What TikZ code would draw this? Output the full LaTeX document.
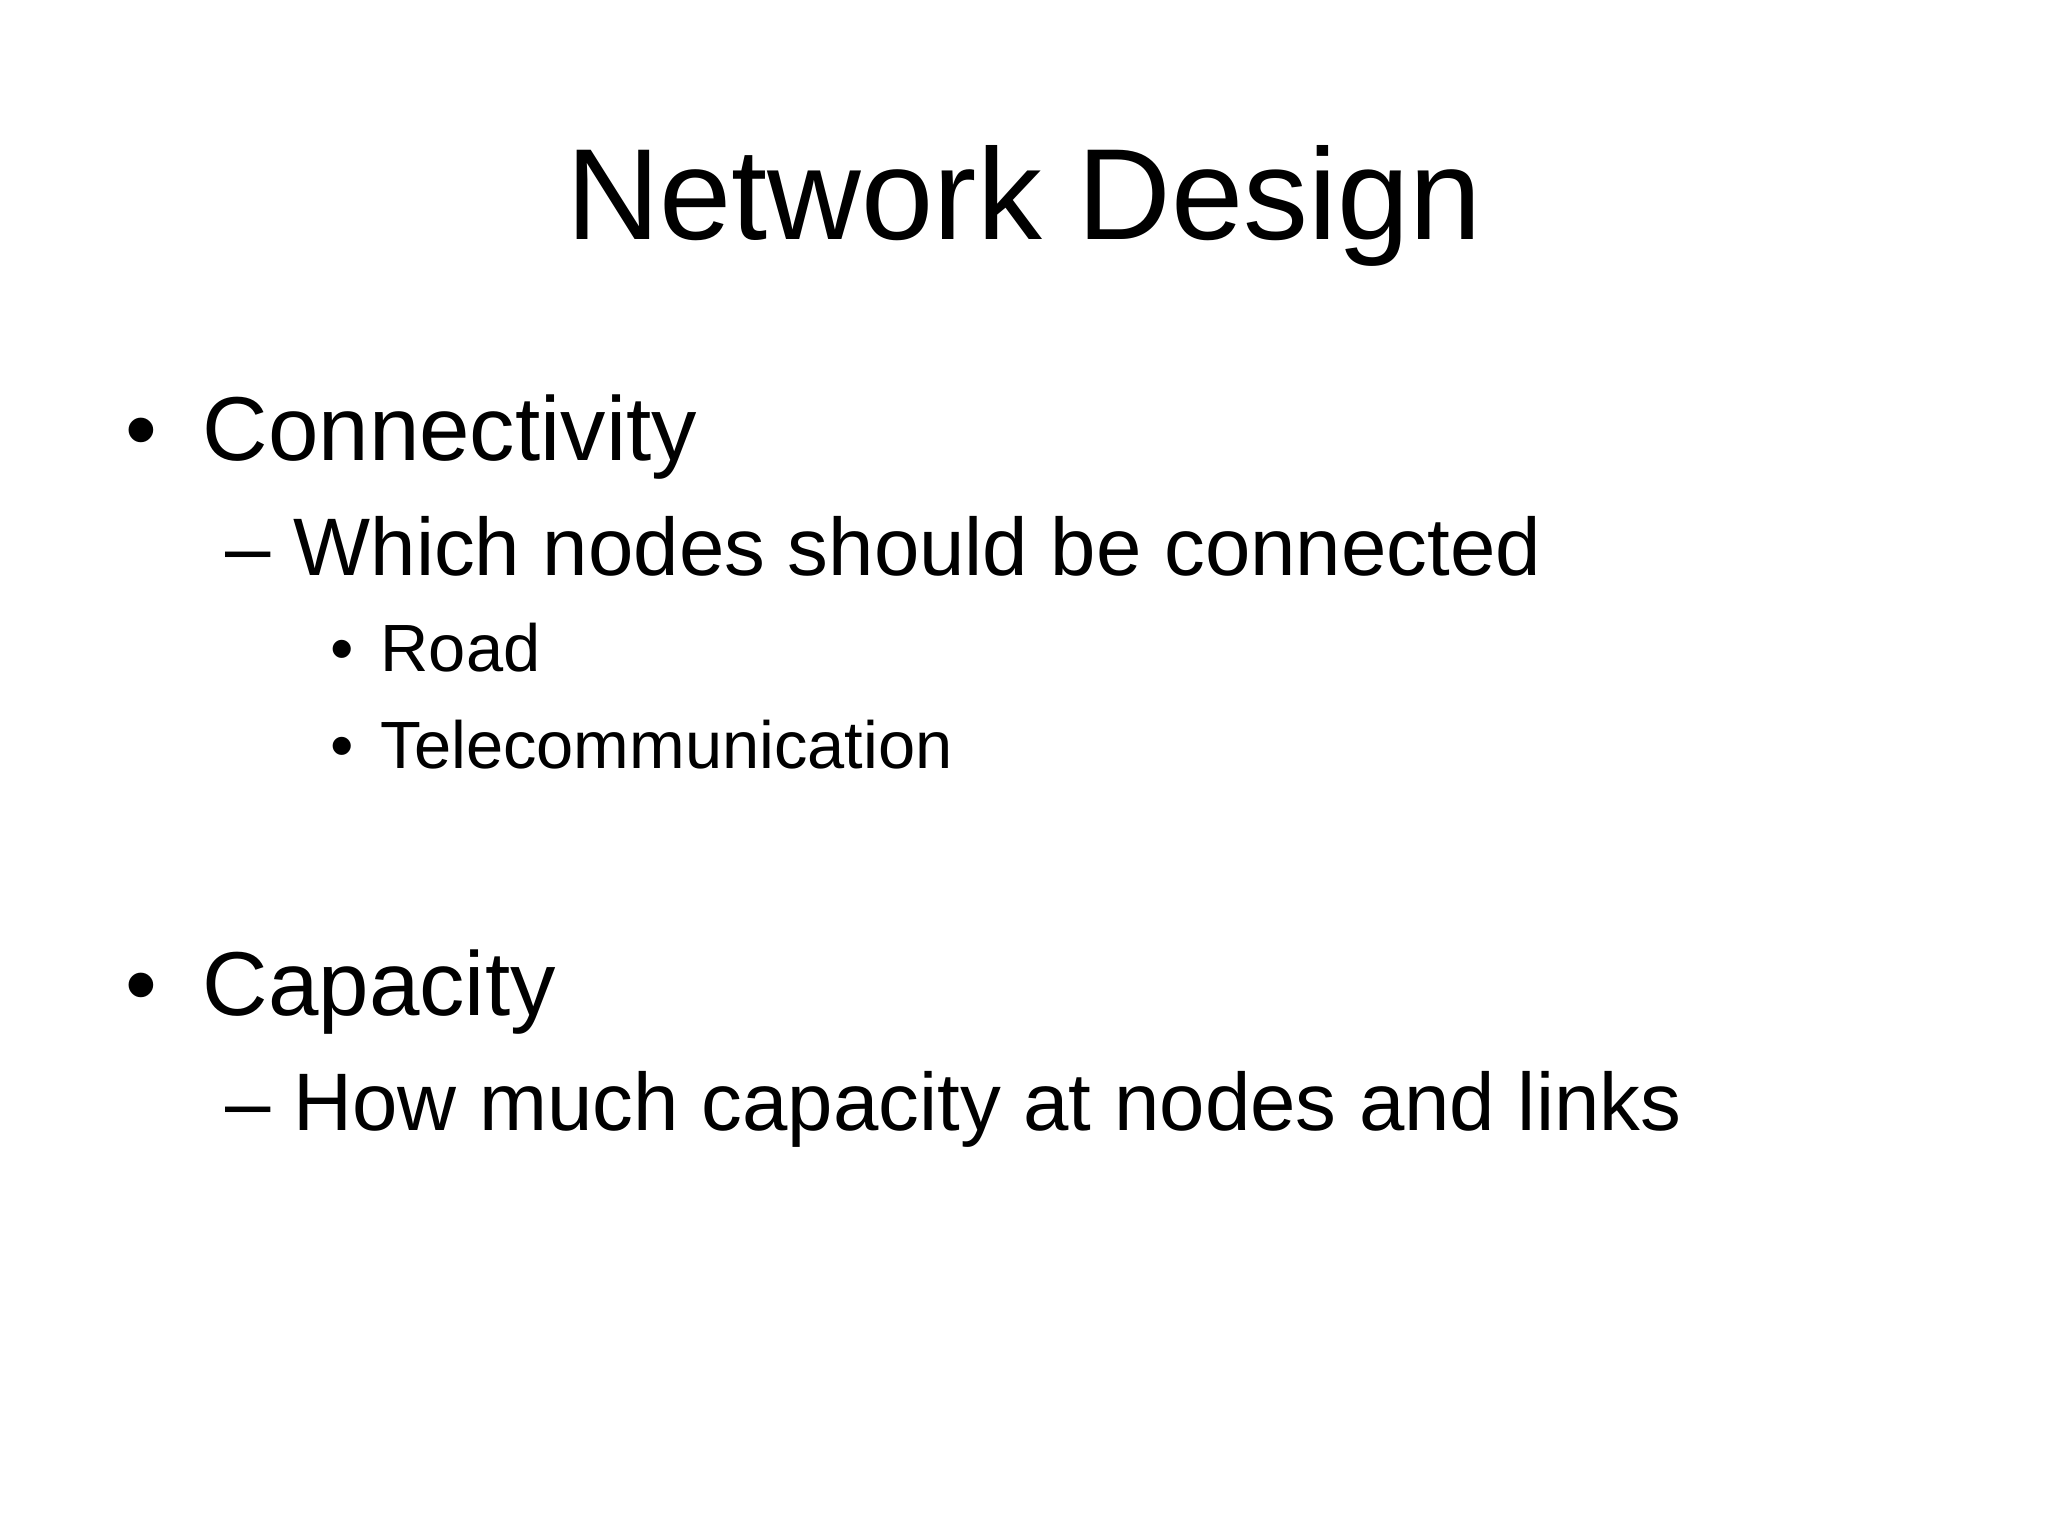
\documentclass[tikz,border=0pt]{standalone}
\usepackage{fontspec}
\setmainfont{Liberation Sans}
\begin{document}
\begin{tikzpicture}[x=0.01cm,y=-0.01cm,
  t/.style={anchor=base west,inner sep=0pt},
  lone/.style={t,font=\fontsize{25.8}{30}\selectfont},
  ltwo/.style={t,font=\fontsize{23.2}{28}\selectfont},
  lthree/.style={t,font=\fontsize{19}{23}\selectfont}]
\useasboundingbox (0,0) rectangle (2048,1536);
\node[anchor=base,inner sep=0pt,font=\fontsize{36.9}{44}\selectfont] (title) at (1024,239) {Network Design};
\node[lone] (b1) at (125,460) {•};
\node[lone] (c1) at (202,460) {Connectivity};
\node[ltwo] (c1a) at (225,575) {– Which nodes should be connected};
\node[lthree] (b3) at (330,671) {•};
\node[lthree] (r) at (380,671) {Road};
\node[lthree] (b4) at (330,768) {•};
\node[lthree] (tc) at (380,768) {Telecommunication};
\node[lone] (b2) at (125,1015) {•};
\node[lone] (c2) at (202,1015) {Capacity};
\node[ltwo] (c2a) at (225,1130) {– How much capacity at nodes and links};
\end{tikzpicture}
\end{document}
